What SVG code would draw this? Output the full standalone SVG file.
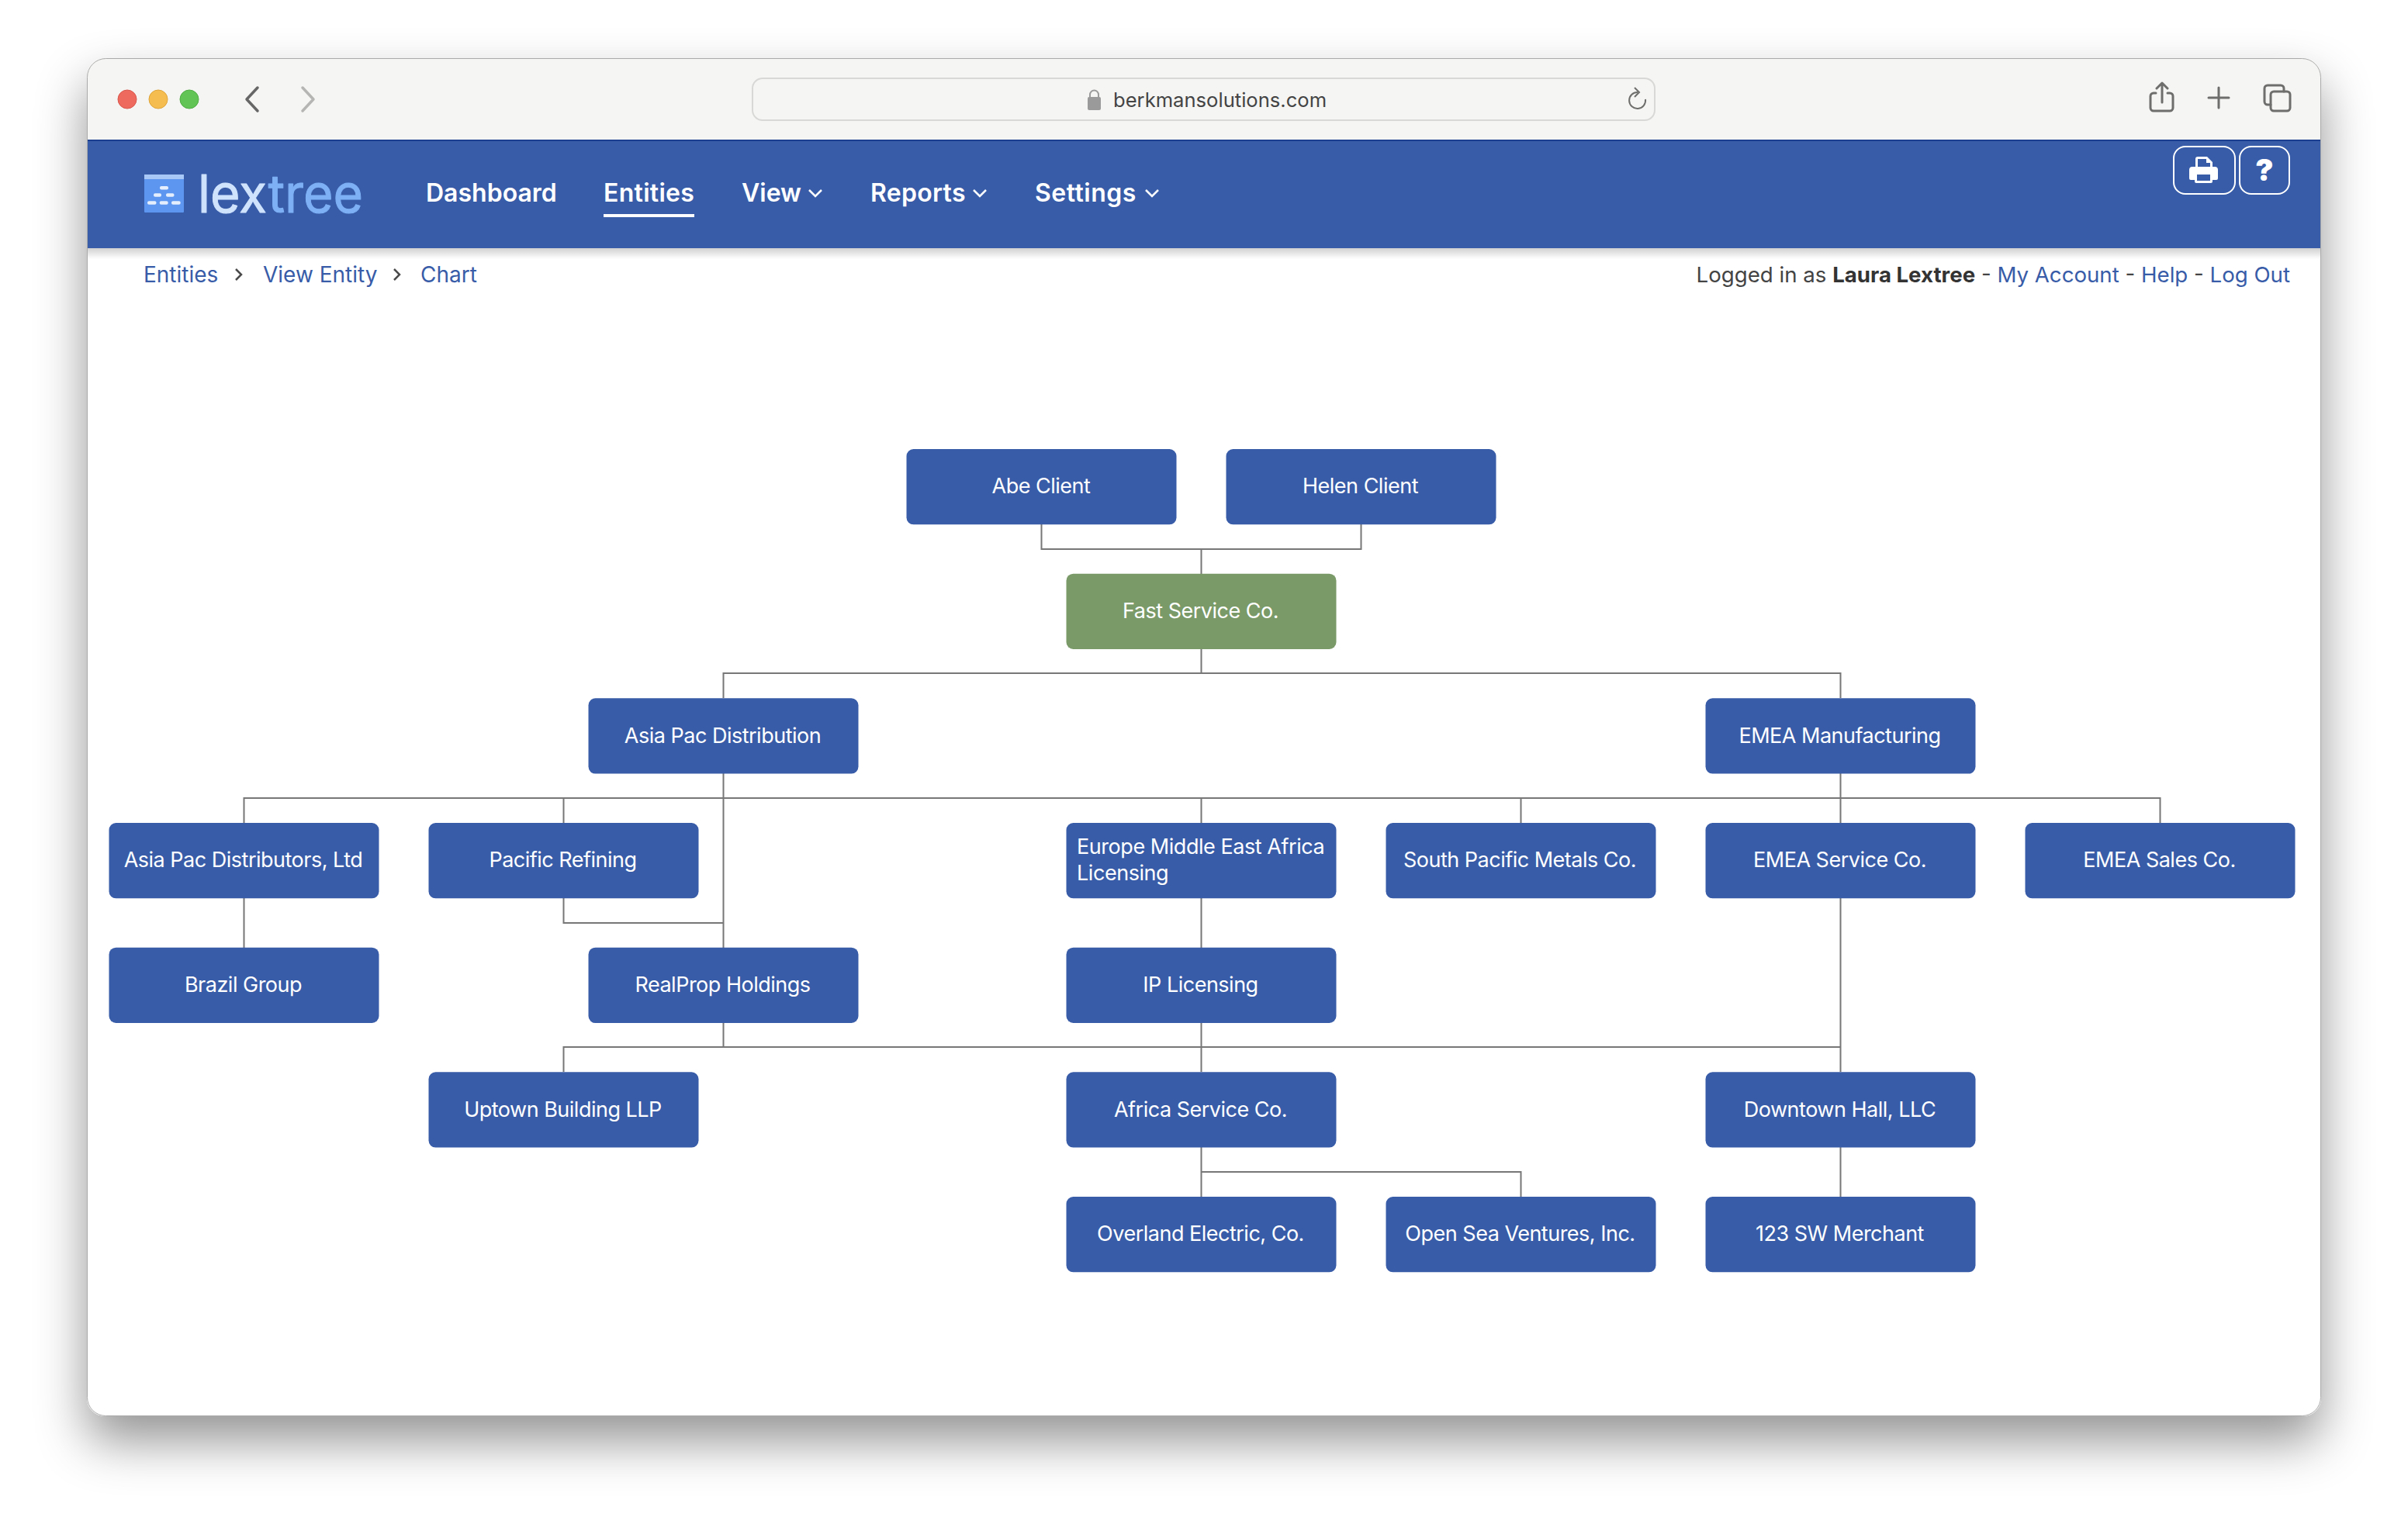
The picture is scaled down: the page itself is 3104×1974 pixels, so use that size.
<svg xmlns="http://www.w3.org/2000/svg" width="3104" height="1974" viewBox="0 0 3104 1974">
<style>
text{font-family:Inter,"Liberation Sans",sans-serif}
.n{fill:#385ca8}
.g{fill:#7a9a68}
.t{fill:#fff;font-size:27px;letter-spacing:-.5px;text-anchor:middle}
.l{fill:#fff;font-size:27px;letter-spacing:-.45px}
.c{fill:none;stroke:#777;stroke-width:2}
.nav{fill:#fff;font-size:32px;font-weight:600}
.bc{fill:#385ca8;font-size:28px}
.ic{fill:none;stroke:#6e6e6c;stroke-width:3;stroke-linecap:round;stroke-linejoin:round}
.ch{fill:none;stroke:#fff;stroke-width:2.5}
.sep{fill:none;stroke:#4a4a4a;stroke-width:2.5}
</style>
<defs>
<filter id="ws" x="-10%" y="-15%" width="120%" height="130%"><feDropShadow dx="0" dy="32" stdDeviation="32" flood-color="#000" flood-opacity="0.42"/></filter>
<linearGradient id="hs" x1="0" y1="0" x2="0" y2="1"><stop offset="0" stop-color="#000" stop-opacity=".18"/><stop offset="1" stop-color="#000" stop-opacity="0"/></linearGradient>
<clipPath id="wc"><rect x="112" y="75" width="2880" height="1751" rx="24"/></clipPath>
</defs>
<rect width="3104" height="1974" fill="#fff"/>
<rect x="112" y="75" width="2880" height="1751" rx="24" fill="#fff" filter="url(#ws)"/>
<g clip-path="url(#wc)">
<rect x="112" y="75" width="2880" height="105" fill="#f5f5f3"/>
<rect x="112" y="180" width="2880" height="140" fill="#385ca8"/>
<rect x="112" y="180" width="2880" height="2" fill="#1c3f8f"/>
<rect x="112" y="320" width="2880" height="14" fill="url(#hs)"/>
</g>
<rect x="112.500" y="75.500" width="2879" height="1750" rx="24" fill="none" stroke="#aaa" stroke-width="1"/>
<g id="browser">
<circle cx="164" cy="128" r="12" fill="#ee6a5f" stroke="#d9584e"/>
<circle cx="204" cy="128" r="12" fill="#f5bd4f" stroke="#dfa53c"/>
<circle cx="244" cy="128" r="12" fill="#61c454" stroke="#52ad46"/>
<path d="M332 113L318 128L332 143" fill="none" stroke="#666" stroke-width="3.500" stroke-linecap="round" stroke-linejoin="round"/>
<path d="M390 113L404 128L390 143" fill="none" stroke="#b5b5b3" stroke-width="3.500" stroke-linecap="round" stroke-linejoin="round"/>
<rect x="970" y="101" width="1163" height="54" rx="13" fill="#f5f5f3" stroke="#d8d8d6" stroke-width="2"/>
<rect x="1402" y="125" width="17" height="17" rx="2" fill="#9a9a9a"/>
<path d="M1405 125v-3a5.500 5.500 0 0 1 11 0v3" fill="none" stroke="#9a9a9a" stroke-width="2"/>
<text x="1435" y="138" font-size="25.600" fill="#444">berkmansolutions.com</text>
<path d="M2111 119a10.500 10.500 0 1 0 10 9" fill="none" stroke="#6e6e6c" stroke-width="2"/>
<path d="M2107 113l6 6l-6 6" fill="none" stroke="#6e6e6c" stroke-width="2"/>
<path class="ic" d="M2779 120h-3a4 4 0 0 0-4 4v15a4 4 0 0 0 4 4h21a4 4 0 0 0 4-4v-15a4 4 0 0 0-4-4h-3M2787 132V108M2780 114l7-7l7 7"/>
<path class="ic" d="M2847 126h26M2860 113v26"/>
<path class="ic" d="M2927 135h-4a4 4 0 0 1-4-4v-17a4 4 0 0 1 4-4h17a4 4 0 0 1 4 4v4"/>
<rect class="ic" x="2927" y="118" width="25" height="25" rx="4"/>
</g>
<g id="header">
<rect x="186" y="225" width="51" height="49" rx="1" fill="#5d96f0"/>
<rect x="186" y="225" width="51" height="6" fill="#a8c8f8"/>
<g fill="#e4eefc">
<rect x="206" y="240" width="11" height="4.500" rx="2"/><rect x="198" y="249.300" width="10" height="4.500" rx="2"/><rect x="214" y="249.300" width="10.500" height="4.500" rx="2"/><rect x="190" y="259.300" width="11.500" height="4.500" rx="2"/><rect x="205.700" y="259.300" width="11" height="4.500" rx="2"/><rect x="221" y="259.300" width="11.700" height="4.500" rx="2"/>
</g>
<text x="255" y="274" font-size="68" textLength="213" lengthAdjust="spacingAndGlyphs" stroke-width="1" stroke-linejoin="round"><tspan fill="#cfe3fd" stroke="#cfe3fd">lex</tspan><tspan fill="#7db0f5" stroke="#7db0f5">tree</tspan></text>
<text class="nav" x="549" y="260">Dashboard</text>
<text class="nav" x="778" y="260" letter-spacing=".3">Entities</text>
<rect x="778" y="276" width="117" height="4" fill="#fff"/>
<text class="nav" x="956" y="260">View</text>
<path class="ch" d="M1043 245l8 8l8-8"/>
<text class="nav" x="1122" y="260" letter-spacing=".3">Reports</text>
<path class="ch" d="M1255 245l8 8l8-8"/>
<text class="nav" x="1334" y="260" letter-spacing=".5">Settings</text>
<path class="ch" d="M1477 245l8 8l8-8"/>
<rect x="2802" y="189" width="79" height="61" rx="15" fill="none" stroke="#fff" stroke-width="2"/>
<path fill="#fff" fill-rule="evenodd" d="M2830 205a3 3 0 0 1 3-3h12l7 7v6h3a4 4 0 0 1 4 4v11a2 2 0 0 1-2 2h-5v2a2 2 0 0 1-2 2h-19a2 2 0 0 1-2-2v-2h-5a2 2 0 0 1-2-2v-11a4 4 0 0 1 4-4h4ZM2833 205h11v5h5v5h-16ZM2832 225h17v8h-17Z"/>
<rect x="2887" y="189" width="64" height="61" rx="15" fill="none" stroke="#fff" stroke-width="2"/>
<text x="2919" y="233" font-size="39" font-weight="900" fill="#fff" text-anchor="middle">?</text>
</g>
<g id="subbar">
<text class="bc" x="185" y="364">Entities</text>
<path class="sep" d="M304 347l7 7l-7 7"/>
<text class="bc" x="339" y="364">View Entity</text>
<path class="sep" d="M508 347l7 7l-7 7"/>
<text class="bc" x="542" y="364">Chart</text>
<text x="2952" y="364" font-size="27.650" text-anchor="end" fill="#444">Logged in as <tspan font-weight="700" fill="#333">Laura Lextree</tspan> - <tspan fill="#385ca8">My Account</tspan> - <tspan fill="#385ca8">Help</tspan> - <tspan fill="#385ca8">Log Out</tspan></text>
</g>
<g id="connectors" class="c">
<path d="M1342.500 676V708H1754.500V676M1548.500 708V740"/>
<path d="M1548.500 837V868M932.500 900V868H2372.500V900"/>
<path d="M314.500 1061V1029H2784.500V1061M726.500 1029V1061M1548.500 1029V1061M1960.500 1029V1061M2372.500 997V1061M932.500 997V1222"/>
<path d="M314.500 1158V1222M726.500 1158V1190H932.500M1548.500 1158V1222"/>
<path d="M726.500 1382V1350H2372.500M932.500 1319V1350M1548.500 1319V1382M2372.500 1158V1382"/>
<path d="M1548.500 1479V1543M1548.500 1511H1960.500V1543M2372.500 1479V1543"/>
</g>
<g id="n-abe"><rect class="n" x="1168.500" y="579" width="348" height="97.300" rx="9"/><text class="t" x="1342" y="636">Abe Client</text></g>
<g id="n-helen"><rect class="n" x="1580.500" y="579" width="348" height="97.300" rx="9"/><text class="t" x="1753.500" y="636">Helen Client</text></g>
<g id="n-fast"><rect class="g" x="1374.500" y="739.700" width="348" height="97.300" rx="9"/><text class="t" x="1547.500" y="797">Fast Service Co.</text></g>
<g id="n-asiapac"><rect class="n" x="758.500" y="900.300" width="348" height="97.300" rx="9"/><text class="t" x="931.500" y="957.500">Asia Pac Distribution</text></g>
<g id="n-emeamfg"><rect class="n" x="2198.500" y="900.300" width="348" height="97.300" rx="9"/><text class="t" x="2371.500" y="957.500">EMEA Manufacturing</text></g>
<g id="n-apdl"><rect class="n" x="140.500" y="1061" width="348" height="97.300" rx="9"/><text class="t" x="313.500" y="1118">Asia Pac Distributors, Ltd</text></g>
<g id="n-pacific"><rect class="n" x="552.500" y="1061" width="348" height="97.300" rx="9"/><text class="t" x="725.500" y="1118">Pacific Refining</text></g>
<g id="n-emealic"><rect class="n" x="1374.500" y="1061" width="348" height="97.300" rx="9"/><text class="l" x="1388" y="1101">Europe Middle East Africa</text><text class="l" x="1388" y="1135">Licensing</text></g>
<g id="n-south"><rect class="n" x="1786.500" y="1061" width="348" height="97.300" rx="9"/><text class="t" x="1959" y="1118">South Pacific Metals Co.</text></g>
<g id="n-emeasvc"><rect class="n" x="2198.500" y="1061" width="348" height="97.300" rx="9"/><text class="t" x="2371.500" y="1118">EMEA Service Co.</text></g>
<g id="n-emeasales"><rect class="n" x="2610.500" y="1061" width="348" height="97.300" rx="9"/><text class="t" x="2783.500" y="1118">EMEA Sales Co.</text></g>
<g id="n-brazil"><rect class="n" x="140.500" y="1221.700" width="348" height="97.300" rx="9"/><text class="t" x="313.500" y="1279">Brazil Group</text></g>
<g id="n-realprop"><rect class="n" x="758.500" y="1221.700" width="348" height="97.300" rx="9"/><text class="t" x="931.500" y="1279">RealProp Holdings</text></g>
<g id="n-ip"><rect class="n" x="1374.500" y="1221.700" width="348" height="97.300" rx="9"/><text class="t" x="1547.500" y="1279">IP Licensing</text></g>
<g id="n-uptown"><rect class="n" x="552.500" y="1382.300" width="348" height="97.300" rx="9"/><text class="t" x="725.500" y="1439.500">Uptown Building LLP</text></g>
<g id="n-africa"><rect class="n" x="1374.500" y="1382.300" width="348" height="97.300" rx="9"/><text class="t" x="1547.500" y="1439.500">Africa Service Co.</text></g>
<g id="n-downtown"><rect class="n" x="2198.500" y="1382.300" width="348" height="97.300" rx="9"/><text class="t" x="2371.500" y="1439.500">Downtown Hall, LLC</text></g>
<g id="n-overland"><rect class="n" x="1374.500" y="1543" width="348" height="97.300" rx="9"/><text class="t" x="1547.500" y="1600">Overland Electric, Co.</text></g>
<g id="n-opensea"><rect class="n" x="1786.500" y="1543" width="348" height="97.300" rx="9"/><text class="t" x="1959.500" y="1600">Open Sea Ventures, Inc.</text></g>
<g id="n-123sw"><rect class="n" x="2198.500" y="1543" width="348" height="97.300" rx="9"/><text class="t" x="2371.500" y="1600">123 SW Merchant</text></g>
</svg>
